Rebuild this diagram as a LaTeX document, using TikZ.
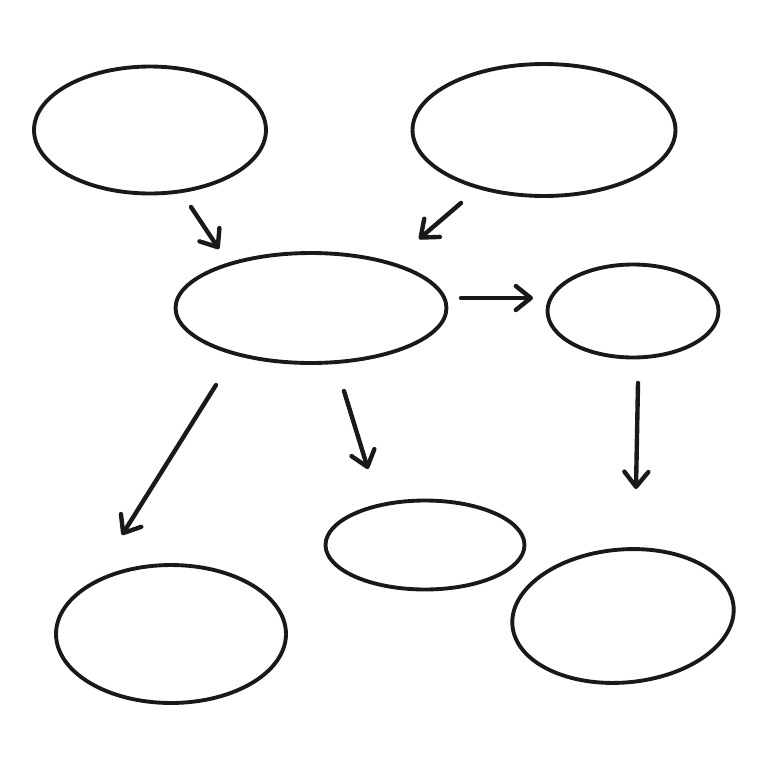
\documentclass[tikz,border=0pt]{standalone}
\usetikzlibrary{arrows.meta,shapes.geometric}

\begin{document}
\begin{tikzpicture}[x=0.02cm,y=-0.02cm,>={Straight Barb[length=3mm,width=4.8mm,line cap=round,line join=round]}]
  \tikzstyle{bolla}=[ellipse,draw=black!90,line width=2.2pt,inner sep=0pt]
  \tikzstyle{freccia}=[->,draw=black!90,line width=2.5pt,line cap=round]

    \useasboundingbox (0,0) rectangle (768,768);

    \node [bolla,minimum width=4.64cm,minimum height=2.54cm] (uno) at (150,130) {}; %alto sx
    \node [bolla,minimum width=5.26cm,minimum height=2.64cm] (due) at (544,130) {}; %alto dx
    \node [bolla,minimum width=5.42cm,minimum height=2.20cm] (tre) at (311,308) {};
    \node [bolla,minimum width=3.42cm,minimum height=1.86cm] (quattro) at (633,311) {};
    \node [bolla,minimum width=3.98cm,minimum height=1.78cm] (cinque) at (425,545) {};
    \node [bolla,minimum width=4.60cm,minimum height=2.76cm] (sei) at (171,634) {};
    \node [bolla,minimum width=4.44cm,minimum height=2.66cm,rotate=5] (sette) at (623,616) {};

    \coordinate (f1a) at (191,207); \coordinate (f1b) at (219,249);
    \coordinate (f2a) at (461,203); \coordinate (f2b) at (419,239);
    \coordinate (f3a) at (461,298); \coordinate (f3b) at (533,298);
    \coordinate (f4a) at (216,385); \coordinate (f4b) at (122,535);
    \coordinate (f5a) at (344,391); \coordinate (f5b) at (368,469);
    \coordinate (f6a) at (638,383); \coordinate (f6b) at (636,489);

    \draw [freccia] (f1a) -- (f1b);
    \draw [freccia] (f2a) -- (f2b);
    \draw [freccia] (f3a) -- (f3b);
    \draw [freccia] (f4a) -- (f4b);
    \draw [freccia] (f5a) -- (f5b);
    \draw [freccia] (f6a) -- (f6b);
\end{tikzpicture}
\end{document}
